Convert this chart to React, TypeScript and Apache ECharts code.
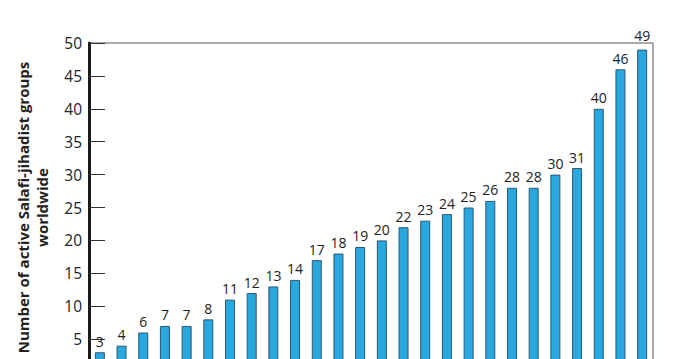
import React, { useEffect, useRef } from "react";
import * as echarts from "echarts";

const categories: string[] = [
  "1", "2", "3", "4", "5", "6", "7", "8", "9", "10", "11", "12", "13",
  "14", "15", "16", "17", "18", "19", "20", "21", "22", "23", "24", "25", "26",
];
const groupCounts: number[] = [
  3, 4, 6, 7, 7, 8, 11, 12, 13, 14, 17, 18, 19, 20, 22, 23, 24, 25, 26, 28, 28, 30, 31, 40, 46, 49,
];
const yAxisTitle = "Number of active Salafi-jihadist groups\nworldwide";

const FONT = "'Open Sans', 'Noto Sans', sans-serif";

export default function App() {
  const ref = useRef<HTMLDivElement>(null);
  useEffect(() => {
    if (!ref.current) return;
    const chart = echarts.init(ref.current, null, { renderer: "svg" });
    const seriesData = groupCounts.map((v) =>
      v > 47 ? { value: v, label: { distance: 7 } } : v
    );
    chart.setOption({
      animation: false,
      backgroundColor: "#ffffff",
      textStyle: { fontFamily: FONT },
      grid: {
        left: 89,
        right: 32,
        top: 43,
        bottom: 48,
        show: true,
        borderColor: "#555555",
        borderWidth: 1,
      },
      xAxis: {
        type: "category",
        data: categories,
        boundaryGap: true,
        axisLine: { show: true, lineStyle: { color: "#222", width: 1 } },
        axisTick: { show: false },
        axisLabel: { show: false },
      },
      yAxis: {
        type: "value",
        min: 0,
        max: 50,
        interval: 5,
        name: yAxisTitle,
        nameLocation: "middle",
        nameGap: 38,
        nameTextStyle: {
          fontSize: 15,
          fontWeight: "bold",
          color: "#222",
          lineHeight: 19,
          fontFamily: FONT,
        },
        axisLine: { show: true, lineStyle: { color: "#1a1a1a", width: 3 } },
        axisTick: { show: true, inside: true, length: 16, lineStyle: { color: "#333", width: 1 } },
        axisLabel: {
          show: true,
          fontSize: 15.5,
          color: "#222",
          margin: 7,
          showMinLabel: false,
          fontFamily: FONT,
        },
        splitLine: { show: false },
      },
      series: [
        {
          type: "bar",
          data: seriesData,
          barWidth: 10,
          itemStyle: {
            color: "#29a7df",
            borderColor: "#2b5870",
            borderWidth: 1,
          },
          label: {
            show: true,
            position: "top",
            distance: 4,
            fontSize: 14,
            color: "#222",
            fontFamily: FONT,
          },
        },
      ],
    });
    return () => chart.dispose();
  }, []);
  return (
    <div
      style={{
        position: "fixed",
        top: 0,
        left: 0,
        width: 685,
        height: 359,
        overflow: "hidden",
        background: "#fff",
      }}
    >
      <div ref={ref} style={{ width: 685, height: 420 }} />
    </div>
  );
}
